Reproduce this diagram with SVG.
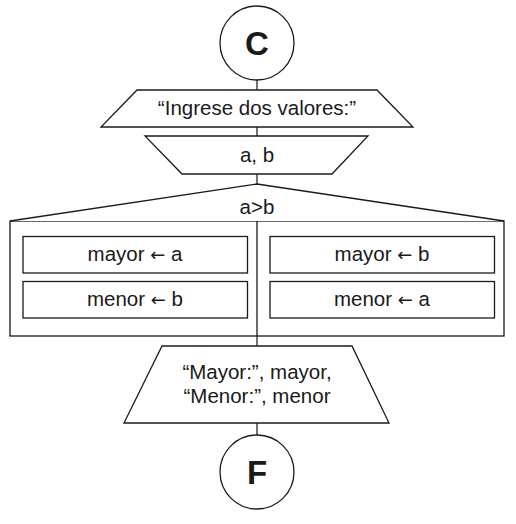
<svg xmlns="http://www.w3.org/2000/svg" width="516" height="524" viewBox="0 0 516 524">
<style>
.s{fill:#fff;stroke:#1a1a1a;stroke-width:1.3}
.c{fill:none;stroke:#444;stroke-width:1.5}
.t{font-family:"Liberation Sans",Arial,sans-serif;font-size:20.5px;fill:#1a1a1a;text-anchor:middle}
.b{font-family:"Liberation Sans",Arial,sans-serif;font-size:33px;font-weight:bold;fill:#1a1a1a;text-anchor:middle}
.ar{font-family:"DejaVu Sans",sans-serif;font-size:18px}
</style>
<rect width="516" height="524" fill="#fff"/>
<g id="connectors">
<line class="c" x1="257" y1="80" x2="257" y2="90"/>
<line class="c" x1="257" y1="127" x2="257" y2="136"/>
<line class="c" x1="257" y1="174" x2="257" y2="184"/>
<line class="c" x1="257" y1="336" x2="257" y2="346"/>
<line class="c" x1="257" y1="423" x2="257" y2="435"/>
</g>
<g id="start">
<circle class="s" cx="257" cy="43" r="37"/>
<text class="b" x="257" y="55">C</text>
</g>
<g id="prompt">
<polygon class="s" points="137,90 377,90 413,127 101,127"/>
<text class="t" x="257" y="115">“Ingrese dos valores:”</text>
</g>
<g id="input">
<polygon class="s" points="145,136 368,136 332,174 182,174"/>
<text class="t" x="257" y="162">a, b</text>
</g>
<g id="decision">
<rect class="s" x="10" y="221" width="494" height="115"/>
<polyline class="s" fill="none" points="10,221 257,184 504,221"/>
<line class="s" x1="257" y1="221" x2="257" y2="336"/>
<text class="t" x="257" y="214">a&gt;b</text>
</g>
<g id="mayor-a">
<rect class="s" x="23" y="236.5" width="224.5" height="36.5"/>
<text class="t" x="135" y="261">mayor <tspan class="ar">←</tspan> a</text>
</g>
<g id="menor-b">
<rect class="s" x="23" y="281.5" width="224.5" height="36.5"/>
<text class="t" x="135" y="306">menor <tspan class="ar">←</tspan> b</text>
</g>
<g id="mayor-b">
<rect class="s" x="270" y="236.5" width="224.5" height="36.5"/>
<text class="t" x="382" y="261">mayor <tspan class="ar">←</tspan> b</text>
</g>
<g id="menor-a">
<rect class="s" x="270" y="281.5" width="224.5" height="36.5"/>
<text class="t" x="382" y="306">menor <tspan class="ar">←</tspan> a</text>
</g>
<g id="output">
<polygon class="s" points="162,346 352,346 389,423 124,423"/>
<text class="t" x="257" y="379">“Mayor:”, mayor,</text>
<text class="t" x="257" y="403">“Menor:”, menor</text>
</g>
<g id="end">
<circle class="s" cx="257" cy="472" r="37"/>
<text class="b" x="257" y="484">F</text>
</g>
</svg>
